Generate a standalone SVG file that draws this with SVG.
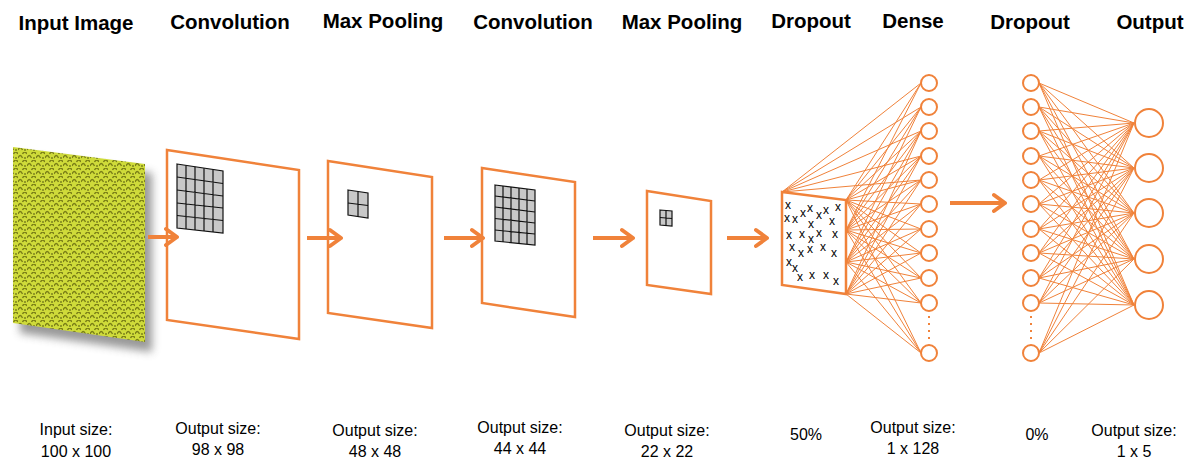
<svg xmlns="http://www.w3.org/2000/svg" width="1200" height="473" viewBox="0 0 1200 473">
<style>
.h{font-family:"Liberation Sans",Arial,sans-serif;font-weight:bold;font-size:20.5px;text-anchor:middle;fill:#000}
.b{font-family:"Liberation Sans",Arial,sans-serif;font-size:16px;text-anchor:middle;fill:#000}
.x{font-family:"Liberation Sans",Arial,sans-serif;font-size:12px;text-anchor:middle;fill:#000}
.fr{fill:#fff;stroke:#f0823a;stroke-width:2.5}
.g{fill:#c8c8c8;stroke:#111;stroke-width:1.2}
.gl{stroke:#111;stroke-width:1.2;fill:none}
.ar{stroke:#f0823a;stroke-width:4;fill:none}
.ah{stroke:#f0823a;stroke-width:4;fill:none;stroke-linecap:round;stroke-linejoin:round}
.n{fill:#fff;stroke:#f0823a;stroke-width:2}
.c{stroke:#f0823a;stroke-width:1;fill:none}
</style>
<defs>
<pattern id="knit" width="9" height="8" patternUnits="userSpaceOnUse">
<rect width="9" height="8" fill="#cfdb3a"/>
<path d="M0 6 Q2.2 1 4.5 6 M4.5 2 Q6.7 -2 9 2" stroke="#7a7f16" stroke-width="1.4" fill="none"/>
<circle cx="7" cy="6" r="0.8" fill="#3f420a"/>
</pattern>
<filter id="sh" x="-20%" y="-20%" width="140%" height="140%"><feGaussianBlur stdDeviation="4"/></filter>
</defs>
<g id="headers">
<text class="h" x="76" y="30">Input Image</text>
<text class="h" x="230" y="29">Convolution</text>
<text class="h" x="383" y="28">Max Pooling</text>
<text class="h" x="533" y="29">Convolution</text>
<text class="h" x="682" y="29">Max Pooling</text>
<text class="h" x="811" y="28">Dropout</text>
<text class="h" x="913" y="28">Dense</text>
<text class="h" x="1030" y="29">Dropout</text>
<text class="h" x="1150" y="29">Output</text>
</g>
<g id="footers">
<text class="b" x="76" y="435">Input size:</text><text class="b" x="76" y="457">100 x 100</text>
<text class="b" x="218" y="434">Output size:</text><text class="b" x="218" y="455">98 x 98</text>
<text class="b" x="375" y="436">Output size:</text><text class="b" x="375" y="457">48 x 48</text>
<text class="b" x="520" y="433">Output size:</text><text class="b" x="520" y="454">44 x 44</text>
<text class="b" x="667" y="436">Output size:</text><text class="b" x="667" y="457">22 x 22</text>
<text class="b" x="806" y="440">50%</text>
<text class="b" x="913" y="433">Output size:</text><text class="b" x="913" y="454">1 x 128</text>
<text class="b" x="1037" y="440">0%</text>
<text class="b" x="1134" y="436">Output size:</text><text class="b" x="1134" y="457">1 x 5</text>
</g>
<g id="input">
<polygon points="20,156 152,173 152,352 20,333" fill="#555" opacity="0.6" filter="url(#sh)"/>
<polygon points="13,147 145,164 145,342 13,323" fill="url(#knit)"/>
</g>
<g id="conv1">
<polygon class="fr" points="167,150 299,170 299,339 167,320"/>
<polygon class="g" points="177,164 223,171 223,233 177,228"/>
<path class="gl" d="M186 165.4V229M195 166.8V230M204 168.2V231M213 169.6V232M177 177 L223 183.5M177 190 L223 196M177 203 L223 208M177 215.5 L223 220.5"/>
</g>
<g id="pool1">
<polygon class="fr" points="328,161 432,177 432,328 328,313"/>
<polygon class="g" points="348,190 368,193 368,218 348,215"/>
<path class="gl" d="M358 191.5V216.5M348 203 L368 205.5"/>
</g>
<g id="conv2">
<polygon class="fr" points="482,168 575,182 575,317 482,303"/>
<polygon class="g" points="495,185 535,190 535,245 495,241"/>
<path class="gl" d="M503 186V242M511 187V243M519 188V243.5M527 189V244M495 196 L535 201M495 207 L535 212M495 218.5 L535 223M495 230 L535 234"/>
</g>
<g id="pool2">
<polygon class="fr" points="647,191 711,201 711,294 647,285"/>
<polygon class="g" points="660,210 672,211 672,226 660,225"/>
<path class="gl" d="M666 210.5V225.5M660 217.5 L672 218.5"/>
</g>
<g id="dropout1">
<polygon class="fr" points="782,192 846,200 846,294 782,285"/>
<g class="x">
<text x="788" y="209">x</text><text x="787" y="222">x</text><text x="795" y="223">x</text><text x="803" y="217">x</text><text x="810" y="212">x</text><text x="819" y="219">x</text><text x="811" y="228">x</text><text x="826" y="214">x</text><text x="838" y="211">x</text><text x="832" y="225">x</text>
<text x="789" y="239">x</text><text x="802" y="238">x</text><text x="811" y="243">x</text><text x="819" y="237">x</text><text x="835" y="238">x</text><text x="792" y="251">x</text><text x="801" y="257">x</text><text x="810" y="253">x</text><text x="823" y="251">x</text><text x="834" y="257">x</text>
<text x="789" y="266">x</text><text x="795" y="272">x</text><text x="800" y="281">x</text><text x="812" y="279">x</text><text x="826" y="279">x</text><text x="836" y="285">x</text>
</g>
</g>
<g id="connectors">
<path class="ar" d="M148 237H176M307 238H340M444 238H482M593 238H632M727 238H766M950 203H1003"/>
<path class="ah" d="M166 229L177 237L166 245M330 230L341 238L330 246M472 230L483 238L472 246M622 230L633 238L622 246M756 230L767 238L756 246M994 195L1005 203L994 211"/>
<path class="c" d="M782 192L921 83M782 192L921 107M782 192L921 131M782 192L921 156M782 192L921 180
M846 200L921 83M846 200L921 107M846 200L921 131M846 200L921 156M846 200L921 180M846 200L921 204M846 200L921 229M846 200L921 253M846 200L921 278M846 200L921 303M846 200L921 353
M846 230L921 83M846 230L921 107M846 230L921 131M846 230L921 156M846 230L921 180M846 230L921 204M846 230L921 229M846 230L921 253M846 230L921 278M846 230L921 303M846 230L921 353
M846 262L921 107M846 262L921 131M846 262L921 156M846 262L921 180M846 262L921 204M846 262L921 229M846 262L921 253M846 262L921 278M846 262L921 303M846 262L921 353
M846 294L921 131M846 294L921 156M846 294L921 180M846 294L921 204M846 294L921 229M846 294L921 253M846 294L921 278M846 294L921 303M846 294L921 353"/>
<path class="c" d="M1039 83L1134 123M1039 83L1134 168M1039 83L1134 213M1039 83L1134 259M1039 83L1134 305
M1039 107L1134 123M1039 107L1134 168M1039 107L1134 213M1039 107L1134 259M1039 107L1134 305
M1039 131L1134 123M1039 131L1134 168M1039 131L1134 213M1039 131L1134 259M1039 131L1134 305
M1039 156L1134 123M1039 156L1134 168M1039 156L1134 213M1039 156L1134 259M1039 156L1134 305
M1039 180L1134 123M1039 180L1134 168M1039 180L1134 213M1039 180L1134 259M1039 180L1134 305
M1039 204L1134 123M1039 204L1134 168M1039 204L1134 213M1039 204L1134 259M1039 204L1134 305
M1039 229L1134 123M1039 229L1134 168M1039 229L1134 213M1039 229L1134 259M1039 229L1134 305
M1039 253L1134 123M1039 253L1134 168M1039 253L1134 213M1039 253L1134 259M1039 253L1134 305
M1039 278L1134 123M1039 278L1134 168M1039 278L1134 213M1039 278L1134 259M1039 278L1134 305
M1039 303L1134 123M1039 303L1134 168M1039 303L1134 213M1039 303L1134 259M1039 303L1134 305
M1039 353L1134 123M1039 353L1134 168M1039 353L1134 213M1039 353L1134 259M1039 353L1134 305"/>
<path d="M929 316V340M1031 316V340" stroke="#f0823a" stroke-width="2" stroke-dasharray="2,5"/>
</g>
<g id="dense">
<circle class="n" cx="929" cy="83" r="8"/><circle class="n" cx="929" cy="107" r="8"/><circle class="n" cx="929" cy="131" r="8"/><circle class="n" cx="929" cy="156" r="8"/><circle class="n" cx="929" cy="180" r="8"/><circle class="n" cx="929" cy="204" r="8"/><circle class="n" cx="929" cy="229" r="8"/><circle class="n" cx="929" cy="253" r="8"/><circle class="n" cx="929" cy="278" r="8"/><circle class="n" cx="929" cy="303" r="8"/><circle class="n" cx="929" cy="353" r="8"/>
</g>
<g id="dropout2">
<circle class="n" cx="1031" cy="83" r="8"/><circle class="n" cx="1031" cy="107" r="8"/><circle class="n" cx="1031" cy="131" r="8"/><circle class="n" cx="1031" cy="156" r="8"/><circle class="n" cx="1031" cy="180" r="8"/><circle class="n" cx="1031" cy="204" r="8"/><circle class="n" cx="1031" cy="229" r="8"/><circle class="n" cx="1031" cy="253" r="8"/><circle class="n" cx="1031" cy="278" r="8"/><circle class="n" cx="1031" cy="303" r="8"/><circle class="n" cx="1031" cy="353" r="8"/>
</g>
<g id="output">
<circle class="n" cx="1149" cy="123" r="14"/><circle class="n" cx="1149" cy="168" r="14"/><circle class="n" cx="1149" cy="213" r="14"/><circle class="n" cx="1149" cy="259" r="14"/><circle class="n" cx="1149" cy="305" r="14"/>
</g>
</svg>
